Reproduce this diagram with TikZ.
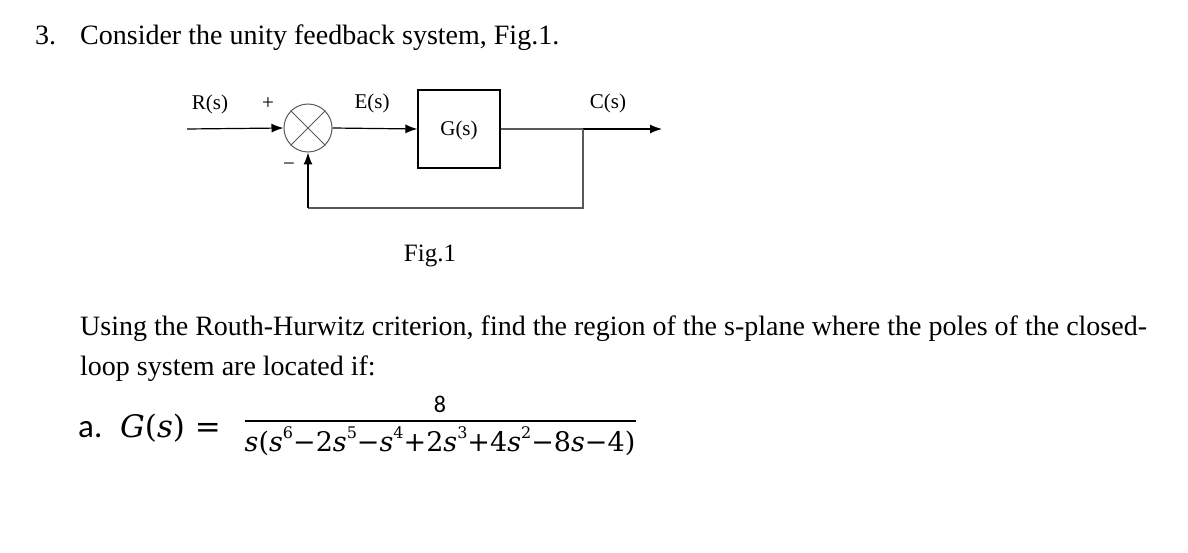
\documentclass[tikz,border=0pt]{standalone}
\usepackage{fontspec}
\setmainfont{Liberation Serif}
\newfontfamily\calib{Carlito}
\newfontfamily\cmath{DejaVu Serif}
\usetikzlibrary{arrows.meta}
\newcommand{\supx}[1]{\raisebox{0.45em}{\fontsize{16}{18}\selectfont #1}}
\begin{document}
\begin{tikzpicture}[x=1pt,y=-1pt,
  txt/.style={anchor=base west,inner sep=0pt,font=\fontsize{28}{32}\selectfont},
  lab/.style={inner sep=0pt,font=\fontsize{21}{24}\selectfont},
  ln/.style={line width=1.2pt,gray!70!black},
  arr/.style={ln,-{Latex[length=12pt,width=9pt]},black}]
\useasboundingbox (0,0) rectangle (1188,553);
\node[txt] (num) at (35,45) {3.};
\node[txt] (t1) at (80,45) {Consider the unity feedback system, Fig.1.};
% diagram
\coordinate (in) at (187,129);
\node[draw,circle,minimum size=48pt,inner sep=0pt,line width=1pt,gray!70!black] (sum) at (308,128) {};
\draw[gray!70!black,line width=1pt] (sum.north west)--(sum.south east) (sum.north east)--(sum.south west);
\node[draw,line width=1.2pt,minimum width=82pt,minimum height=78pt,inner sep=0pt] (g) at (459,129) {};
\node[lab] (gl) at (459,130) {G(s)};
\coordinate (br) at (583,129);
\coordinate (out) at (662,129);
\coordinate (fb1) at (583,208);
\coordinate (fb2) at (308,208);
\draw[arr] (in) -- (sum.west);
\draw[arr] (sum.east) -- (g.west);
\draw[ln] (g.east) -- (br);
\draw[arr] (br) -- (out);
\draw[ln] (br) -- (fb1) -- (fb2);
\draw[arr] (fb2) -- (sum.south);
\node[lab] (rl) at (210,104) {R(s)};
\node[lab] (pl) at (268,104) {+};
\node[lab] (el) at (372,103) {E(s)};
\node[lab] (cl) at (608,103) {C(s)};
\node[lab] (ml) at (289,167) {−};
\node[lab,font=\fontsize{25}{28}\selectfont] (fig) at (430,256) {Fig.1};
\node[txt] (p1) at (80,335) {Using the Routh-Hurwitz criterion, find the region of the s-plane where the poles of the closed-};
\node[txt] (p2) at (80,375) {loop system are located if:};
% equation
\node[txt,font=\calib\fontsize{33}{36}\selectfont] (a) at (78,437) {a.};
\node[txt,font=\cmath\fontsize{31}{34}\selectfont] (gs) at (120,437) {\textit{G}(\textit{s}) =};
\draw[line width=1.6pt] (245,421) -- (636,421);
\node[inner sep=0pt,font=\calib\fontsize{24}{26}\selectfont,anchor=base] (n8) at (440,412) {8};
\node[inner sep=0pt,anchor=base,font=\cmath\fontsize{27}{30}\selectfont] (den) at (440,451) {\textit{s}(\textit{s}\supx{6}−2\textit{s}\supx{5}−\textit{s}\supx{4}+2\textit{s}\supx{3}+4\textit{s}\supx{2}−8\textit{s}−4)};
\end{tikzpicture}
\end{document}
